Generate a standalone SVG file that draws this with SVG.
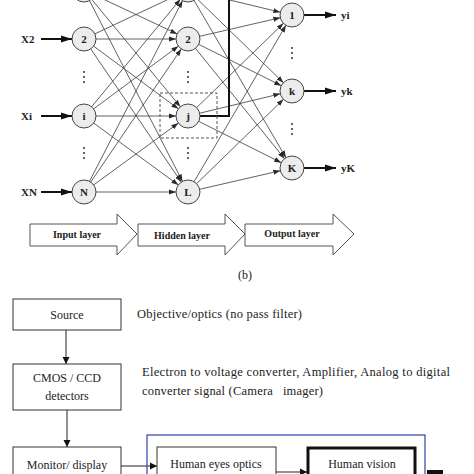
<svg xmlns="http://www.w3.org/2000/svg" width="474" height="474" viewBox="0 0 474 474">
<style>
.bg{fill:#fff}
.conn line{stroke:#3a3a3a;stroke-width:0.8;fill:none}
.node circle{fill:#ececec;stroke:#444;stroke-width:1}
.nl{font-family:"Liberation Serif",serif;font-size:11px;font-weight:bold;fill:#222;text-anchor:middle}
.io{font-family:"Liberation Serif",serif;font-size:11px;font-weight:bold;fill:#222}
.dots{fill:#333}
.blk{fill:#fff;stroke:#555;stroke-width:1}
.ll{font-family:"Liberation Serif",serif;font-size:10px;font-weight:bold;fill:#222;text-anchor:middle}
.box{fill:#fff;stroke:#333;stroke-width:1}
.t{font-family:"Liberation Serif",serif;font-size:12.5px;fill:#222}
.tc{font-family:"Liberation Serif",serif;font-size:12px;fill:#222;text-anchor:middle}
.fl{stroke:#222;stroke-width:1;fill:none}
</style>
<defs>
<marker id="ah" markerUnits="userSpaceOnUse" markerWidth="10" markerHeight="6" refX="19" refY="3" orient="auto">
<path d="M0,0.5 L7,3 L0,5.5 z" fill="#2a2a2a"/>
</marker>
<marker id="ah2" markerUnits="userSpaceOnUse" markerWidth="12" markerHeight="8" refX="11" refY="4" orient="auto">
<path d="M0,0.5 L11,4 L0,7.5 z" fill="#111"/>
</marker>
<marker id="ah3" markerUnits="userSpaceOnUse" markerWidth="8" markerHeight="8" refX="7" refY="4" orient="auto">
<path d="M0,0.5 L7,4 L0,7.5 z" fill="#111"/>
</marker>
</defs>
<rect class="bg" x="0" y="0" width="474" height="474"/>

<g id="connectors">
<g class="conn">
<line x1="84" y1="-10" x2="188" y2="-10" marker-end="url(#ah)"/>
<line x1="84" y1="-10" x2="188" y2="39" marker-end="url(#ah)"/>
<line x1="84" y1="-10" x2="188" y2="116" marker-end="url(#ah)"/>
<line x1="84" y1="-10" x2="188" y2="192" marker-end="url(#ah)"/>
<line x1="84" y1="39" x2="188" y2="-10" marker-end="url(#ah)"/>
<line x1="84" y1="39" x2="188" y2="39" marker-end="url(#ah)"/>
<line x1="84" y1="39" x2="188" y2="116" marker-end="url(#ah)"/>
<line x1="84" y1="39" x2="188" y2="192" marker-end="url(#ah)"/>
<line x1="84" y1="116" x2="188" y2="-10" marker-end="url(#ah)"/>
<line x1="84" y1="116" x2="188" y2="39" marker-end="url(#ah)"/>
<line x1="84" y1="116" x2="188" y2="116" marker-end="url(#ah)"/>
<line x1="84" y1="116" x2="188" y2="192" marker-end="url(#ah)"/>
<line x1="84" y1="192" x2="188" y2="-10" marker-end="url(#ah)"/>
<line x1="84" y1="192" x2="188" y2="39" marker-end="url(#ah)"/>
<line x1="84" y1="192" x2="188" y2="116" marker-end="url(#ah)"/>
<line x1="84" y1="192" x2="188" y2="192" marker-end="url(#ah)"/>
<line x1="188" y1="-10" x2="292" y2="15" marker-end="url(#ah)"/>
<line x1="188" y1="-10" x2="292" y2="91" marker-end="url(#ah)"/>
<line x1="188" y1="-10" x2="292" y2="168" marker-end="url(#ah)"/>
<line x1="188" y1="39" x2="292" y2="15" marker-end="url(#ah)"/>
<line x1="188" y1="39" x2="292" y2="91" marker-end="url(#ah)"/>
<line x1="188" y1="39" x2="292" y2="168" marker-end="url(#ah)"/>
<line x1="188" y1="116" x2="292" y2="15" marker-end="url(#ah)"/>
<line x1="188" y1="116" x2="292" y2="91" marker-end="url(#ah)"/>
<line x1="188" y1="116" x2="292" y2="168" marker-end="url(#ah)"/>
<line x1="188" y1="192" x2="292" y2="15" marker-end="url(#ah)"/>
<line x1="188" y1="192" x2="292" y2="91" marker-end="url(#ah)"/>
<line x1="188" y1="192" x2="292" y2="168" marker-end="url(#ah)"/>
</g>
<polyline points="200,116 229,116 229,0" fill="none" stroke="#111" stroke-width="2"/>
<line x1="41" y1="39" x2="72" y2="39" stroke="#111" stroke-width="2" marker-end="url(#ah2)"/>
<line x1="41" y1="116" x2="72" y2="116" stroke="#111" stroke-width="2" marker-end="url(#ah2)"/>
<line x1="41" y1="192" x2="72" y2="192" stroke="#111" stroke-width="2" marker-end="url(#ah2)"/>
<line x1="304" y1="15" x2="336" y2="15" stroke="#111" stroke-width="2" marker-end="url(#ah2)"/>
<line x1="304" y1="91" x2="336" y2="91" stroke="#111" stroke-width="2" marker-end="url(#ah2)"/>
<line x1="304" y1="168" x2="336" y2="168" stroke="#111" stroke-width="2" marker-end="url(#ah2)"/>
<line class="fl" x1="66" y1="330" x2="66" y2="364" marker-end="url(#ah3)"/>
<line class="fl" x1="67" y1="410" x2="67" y2="447" marker-end="url(#ah3)"/>
<line class="fl" x1="121" y1="466" x2="157" y2="466" marker-end="url(#ah3)"/>
<line class="fl" x1="276" y1="472" x2="307" y2="472" marker-end="url(#ah3)"/>
</g>

<rect x="160" y="93" width="57" height="45" fill="none" stroke="#555" stroke-width="1" stroke-dasharray="3,2"/>

<g id="in1" class="node"><circle cx="84" cy="-10" r="12"/></g>
<g id="in2" class="node"><circle cx="84" cy="39" r="12"/><text class="nl" x="84" y="43">2</text></g>
<g id="ini" class="node"><circle cx="84" cy="116" r="12"/><text class="nl" x="84" y="120">i</text></g>
<g id="inN" class="node"><circle cx="84" cy="192" r="12"/><text class="nl" x="84" y="196">N</text></g>
<g id="h1" class="node"><circle cx="188" cy="-10" r="12"/></g>
<g id="h2" class="node"><circle cx="188" cy="39" r="12"/><text class="nl" x="188" y="43">2</text></g>
<g id="hj" class="node"><circle cx="188" cy="116" r="12"/><text class="nl" x="188" y="120">j</text></g>
<g id="hL" class="node"><circle cx="188" cy="192" r="12"/><text class="nl" x="188" y="196">L</text></g>
<g id="o1" class="node"><circle cx="292" cy="15" r="12"/><text class="nl" x="292" y="19">1</text></g>
<g id="ok" class="node"><circle cx="292" cy="91" r="12"/><text class="nl" x="292" y="95">k</text></g>
<g id="oK" class="node"><circle cx="292" cy="168" r="12"/><text class="nl" x="292" y="172">K</text></g>

<g id="dots" class="dots">
<circle cx="84" cy="72" r="1"/><circle cx="84" cy="77" r="1"/><circle cx="84" cy="82" r="1"/>
<circle cx="84" cy="148" r="1"/><circle cx="84" cy="153" r="1"/><circle cx="84" cy="158" r="1"/>
<circle cx="188" cy="72" r="1"/><circle cx="188" cy="77" r="1"/><circle cx="188" cy="82" r="1"/>
<circle cx="188" cy="148" r="1"/><circle cx="188" cy="153" r="1"/><circle cx="188" cy="158" r="1"/>
<circle cx="292" cy="48" r="1"/><circle cx="292" cy="53" r="1"/><circle cx="292" cy="58" r="1"/>
<circle cx="292" cy="124" r="1"/><circle cx="292" cy="129" r="1"/><circle cx="292" cy="134" r="1"/>
</g>

<g id="io-labels">
<text class="io" x="21" y="43">X2</text>
<text class="io" x="21" y="120">Xi</text>
<text class="io" x="21" y="196">XN</text>
<text class="io" x="341" y="19">yi</text>
<text class="io" x="341" y="95">yk</text>
<text class="io" x="341" y="172">yK</text>
</g>

<g id="layer-input"><polygon class="blk" points="30,224 117,224 117,214 137,234 117,255 117,246 30,246"/><text class="ll" x="77" y="238">Input layer</text></g>
<g id="layer-hidden"><polygon class="blk" points="138,224 225,224 225,214 245,234 225,255 225,246 138,246"/><text class="ll" x="182" y="239">Hidden layer</text></g>
<g id="layer-output"><polygon class="blk" points="245,224 333,224 333,214 354,234 333,255 333,246 245,246"/><text class="ll" x="292" y="237">Output layer</text></g>

<text x="245" y="279" font-family="'Liberation Serif',serif" font-size="12" fill="#222" text-anchor="middle">(b)</text>

<g id="source"><rect class="box" x="13" y="299" width="108" height="31"/><text class="tc" x="67" y="319">Source</text></g>
<text class="t" x="137" y="318" textLength="165">Objective/optics (no pass filter)</text>
<g id="cmos"><rect class="box" x="13" y="364" width="108" height="46"/><text class="tc" x="67" y="382">CMOS / CCD</text><text class="tc" x="67" y="400">detectors</text></g>
<text class="t" x="142" y="376" textLength="308">Electron to voltage converter, Amplifier, Analog to digital</text>
<text class="t" x="142" y="395" textLength="181" xml:space="preserve">converter signal (Camera   imager)</text>

<rect x="147" y="435" width="278" height="50" fill="none" stroke="#3340a8" stroke-width="1.2"/>
<g id="monitor"><rect class="box" x="13" y="447" width="108" height="40"/><text class="tc" x="67" y="469">Monitor/ display</text></g>
<g id="eyes"><rect class="box" x="157" y="447" width="119" height="40"/><text class="tc" x="216" y="468">Human eyes optics</text></g>
<g id="vision"><rect x="308" y="448" width="107" height="40" fill="#fff" stroke="#111" stroke-width="3"/><text class="tc" x="362" y="468">Human vision</text></g>
<rect x="427" y="470" width="16" height="4" fill="#111"/>
</svg>
